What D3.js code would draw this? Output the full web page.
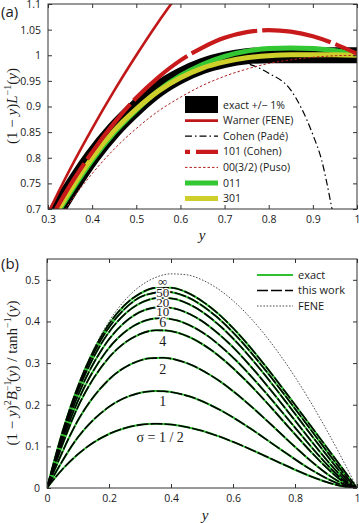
<!DOCTYPE html>
<html>
<head>
<meta charset="utf-8">
<script src="https://cdn.jsdelivr.net/npm/d3@7"></script>
<style>
body { margin: 0; background: #fff; }
text { font-family: "Open Sans", sans-serif; fill: #1a1a1a; }
.math { font-family: "Liberation Serif", serif; }
</style>
</head>
<body>
<div id="chart"></div>
<script>
// ---------- panel (a) data ----------
var yGridA = [0.30, 0.35, 0.40, 0.45, 0.50, 0.55, 0.60, 0.65, 0.70, 0.75, 0.80, 0.85, 0.90, 0.95, 1.00];
var exactA = [0.667, 0.738, 0.802, 0.855, 0.898, 0.934, 0.960, 0.979, 0.991, 0.998, 1.000, 1.000, 1.000, 1.000, 1.000];
var cohen101 = [0.672, 0.746, 0.811, 0.868, 0.917, 0.957, 0.990, 1.015, 1.034, 1.045, 1.049, 1.046, 1.037, 1.022, 1.003];
var puso = [0.647, 0.713, 0.769, 0.817, 0.857, 0.891, 0.918, 0.941, 0.959, 0.973, 0.984, 0.991, 0.996, 0.999, 1.000];
var approx011 = [0.662, 0.731, 0.795, 0.849, 0.893, 0.931, 0.960, 0.982, 0.998, 1.008, 1.013, 1.014, 1.013, 1.009, 1.003];
var approx301 = [0.665, 0.736, 0.800, 0.853, 0.895, 0.930, 0.956, 0.975, 0.987, 0.995, 0.999, 1.001, 1.001, 1.001, 1.000];
var warnerY = [0.30, 0.35, 0.40, 0.45, 0.50, 0.55, 0.60];
var warner = [0.692, 0.778, 0.857, 0.931, 1.000, 1.065, 1.125];
var padeY = [0.30, 0.35, 0.40, 0.45, 0.50, 0.55, 0.60, 0.65, 0.70, 0.75, 0.80, 0.85, 0.875, 0.90, 0.92, 0.94, 0.96];
var pade = [0.667, 0.738, 0.802, 0.855, 0.898, 0.934, 0.960, 0.979, 0.990, 0.984, 0.965, 0.932, 0.895, 0.845, 0.795, 0.715, 0.620];

var xTicksA = [0.3, 0.4, 0.5, 0.6, 0.7, 0.8, 0.9, 1.0];
var xTickLabelsA = ["0.3", "0.4", "0.5", "0.6", "0.7", "0.8", "0.9", "1"];
var yTicksA = [0.7, 0.75, 0.8, 0.85, 0.9, 0.95, 1.0, 1.05, 1.1];
var yTickLabelsA = ["0.7", "0.75", "0.8", "0.85", "0.9", "0.95", "1", "1.05", "1.1"];
var legendA = ["exact +/\u2212 1%", "Warner (FENE)", "Cohen (Pad\u00e9)", "101 (Cohen)", "00(3/2) (Puso)", "011", "301"];

// ---------- panel (b) data ----------
var yGridB = [0, 0.05, 0.10, 0.15, 0.20, 0.25, 0.30, 0.35, 0.40, 0.45, 0.50, 0.55, 0.60, 0.65, 0.70, 0.75, 0.80, 0.85, 0.90, 0.95, 1.00];
var sigHalf = [0, 0.0452, 0.0813, 0.1092, 0.1297, 0.1437, 0.1517, 0.1544, 0.1525, 0.1466, 0.1373, 0.1252, 0.1109, 0.0950, 0.0781, 0.0608, 0.0439, 0.0283, 0.0147, 0.0046, 0];
var sigInf = [0, 0.1356, 0.2445, 0.3296, 0.3936, 0.4388, 0.4670, 0.4806, 0.4810, 0.4701, 0.4490, 0.4202, 0.3842, 0.3428, 0.2974, 0.2494, 0.1999, 0.1500, 0.1000, 0.0500, 0];
var fene = [0, 0.1357, 0.2455, 0.3326, 0.4000, 0.4500, 0.4846, 0.5056, 0.5143, 0.5121, 0.5000, 0.4790, 0.4500, 0.4136, 0.3706, 0.3214, 0.2667, 0.2068, 0.1421, 0.0731, 0];
var sig1 = [[0,0],[0.0996,0.1216],[0.1971,0.1934],[0.2903,0.2267],[0.3202,0.2311],[0.3491,0.2330],[0.3777,0.2323],[0.4582,0.2202],[0.5536,0.1893],[0.6533,0.1443],[0.7465,0.0964],[0.8510,0.0444],[0.9122,0.0193],[0.9480,0.0081],[0.9813,0.0014],[1,0]];
var sig2 = [[0,0],[0.0996,0.1622],[0.1966,0.2582],[0.2889,0.3034],[0.3327,0.3117],[0.3747,0.3128],[0.4148,0.3083],[0.4528,0.2994],[0.5547,0.2578],[0.6387,0.2089],[0.7260,0.1502],[0.8041,0.0960],[0.8578,0.0607],[0.9219,0.0244],[0.9553,0.0100],[0.9738,0.0041],[1,0]];
var sig4 = [[0,0],[0.1036,0.2009],[0.2040,0.3168],[0.2984,0.3691],[0.3513,0.3787],[0.3849,0.3784],[0.4170,0.3739],[0.4623,0.3615],[0.5303,0.3310],[0.6399,0.2593],[0.7202,0.1958],[0.7788,0.1467],[0.8548,0.0843],[0.8996,0.0504],[0.9282,0.0309],[0.9609,0.0122],[0.9776,0.0050],[1,0]];
var sig6 = [[0,0],[0.0967,0.2040],[0.1907,0.3275],[0.2795,0.3893],[0.3295,0.4046],[0.3614,0.4079],[0.3919,0.4068],[0.4211,0.4022],[0.5006,0.3741],[0.6075,0.3081],[0.6872,0.2446],[0.7464,0.1930],[0.8245,0.1232],[0.8719,0.0820],[0.9030,0.0564],[0.9403,0.0285],[0.9612,0.0151],[0.9821,0.0045],[1,0]];
var sig10 = [[0,0],[0.0912,0.2065],[0.1800,0.3362],[0.2642,0.4060],[0.3422,0.4327],[0.3714,0.4346],[0.4130,0.4308],[0.4761,0.4117],[0.5803,0.3523],[0.6590,0.2907],[0.7180,0.2385],[0.7972,0.1646],[0.8459,0.1187],[0.8784,0.0888],[0.9184,0.0533],[0.9418,0.0339],[0.9673,0.0150],[0.9844,0.0049],[1,0]];
var sig20 = [[0,0],[0.0871,0.2083],[0.1720,0.3428],[0.2527,0.4188],[0.3277,0.4520],[0.3559,0.4564],[0.3961,0.4559],[0.4573,0.4418],[0.5591,0.3887],[0.6367,0.3299],[0.6954,0.2783],[0.7747,0.2030],[0.8240,0.1548],[0.8571,0.1225],[0.8983,0.0827],[0.9229,0.0594],[0.9507,0.0341],[0.9709,0.0169],[0.9856,0.0062],[1,0]];
var sig50 = [[0,0],[0.0846,0.2095],[0.1672,0.3468],[0.2457,0.4267],[0.3189,0.4639],[0.3858,0.4716],[0.4106,0.4690],[0.4458,0.4606],[0.5461,0.4120],[0.6229,0.3554],[0.6813,0.3047],[0.7605,0.2295],[0.8099,0.1807],[0.8669,0.1240],[0.9097,0.0816],[0.9428,0.0490],[0.9692,0.0238],[0.9837,0.0107],[0.9935,0.0030],[1,0]];

var sigmaLabels = ["\u221e", "50", "20", "10", "6", "4", "2", "1", "\u03c3 = 1 / 2"];
var sigmaLabelX = [0.373, 0.373, 0.373, 0.373, 0.373, 0.373, 0.373, 0.373, 0.365];
var sigmaLabelV = [0.497, 0.469, 0.446, 0.424, 0.398, 0.354, 0.286, 0.209, 0.123];

var xTicksB = [0, 0.2, 0.4, 0.6, 0.8, 1];
var xTickLabelsB = ["0", "0.2", "0.4", "0.6", "0.8", "1"];
var yTicksB = [0, 0.1, 0.2, 0.3, 0.4, 0.5];
var yTickLabelsB = ["0", "0.1", "0.2", "0.3", "0.4", "0.5"];
var legendB = ["exact", "this work", "FENE"];

// ---------- svg ----------
var W = 359, H = 523;
var svg = d3.select("#chart").append("svg")
    .attr("width", W)
    .attr("height", H);

var red = "#c81a1a";
var green = "#33c833";
var yellow = "#cfcf2c";

function zip(xs, vs) {
  return xs.map(function(x, i) { return [x, vs[i]]; });
}

// box with inward ticks on all four sides, labels bottom and left
function frame(g, x, y, xt, xl, yt, yl) {
  var x0 = x.range()[0], x1 = x.range()[1], y0 = y.range()[0], y1 = y.range()[1];
  g.append("g").attr("class", "ax")
    .attr("transform", "translate(0," + y0 + ")")
    .call(d3.axisBottom(x).tickValues(xt).tickSize(-4).tickPadding(7)
      .tickFormat(function(d, i) { return xl[i]; }));
  g.append("g").attr("class", "ax")
    .attr("transform", "translate(0," + y1 + ")")
    .call(d3.axisTop(x).tickValues(xt).tickSize(-4).tickFormat(""));
  g.append("g").attr("class", "ax")
    .attr("transform", "translate(" + x0 + ",0)")
    .call(d3.axisLeft(y).tickValues(yt).tickSize(-4).tickPadding(7)
      .tickFormat(function(d, i) { return yl[i]; }));
  g.append("g").attr("class", "ax")
    .attr("transform", "translate(" + x1 + ",0)")
    .call(d3.axisRight(y).tickValues(yt).tickSize(-4).tickFormat(""));
  g.selectAll(".ax .domain").remove();
  g.selectAll(".ax line").attr("stroke", "#333");
  g.selectAll(".ax text").attr("font-size", "10.5px").attr("font-family", "Open Sans, sans-serif").attr("fill", "#1a1a1a");
  g.append("rect")
    .attr("x", x0).attr("y", y1)
    .attr("width", x1 - x0).attr("height", y0 - y1)
    .attr("fill", "none").attr("stroke", "#333").attr("stroke-width", 1);
}

// ================= panel (a) =================
var xA = d3.scaleLinear().domain([0.3, 1.0]).range([48, 357]);
var yA = d3.scaleLinear().domain([0.7, 1.1]).range([209, 4]);

var gA = svg.append("g");
svg.append("clipPath").attr("id", "clipA").append("rect")
  .attr("x", 48).attr("y", 4).attr("width", 309).attr("height", 205);

var lineA = d3.line()
  .x(function(d) { return xA(d[0]); })
  .y(function(d) { return yA(d[1]); })
  .curve(d3.curveMonotoneX);

var curvesA = gA.append("g").attr("clip-path", "url(#clipA)");

// exact, drawn as a wide band
curvesA.append("path").datum(zip(yGridA, exactA))
  .attr("d", lineA).attr("fill", "none").attr("stroke", "#000").attr("stroke-width", 16);
curvesA.append("path").datum(zip(warnerY, warner))
  .attr("d", lineA).attr("fill", "none").attr("stroke", "#c01818").attr("stroke-width", 2.6);
curvesA.append("path").datum(zip(padeY, pade))
  .attr("d", lineA).attr("fill", "none").attr("stroke", "#000").attr("stroke-width", 1.2)
  .attr("stroke-dasharray", "7,3,1.5,3");
curvesA.append("path").datum(zip(yGridA, approx011))
  .attr("d", lineA).attr("fill", "none").attr("stroke", green).attr("stroke-width", 5);
curvesA.append("path").datum(zip(yGridA, approx301))
  .attr("d", lineA).attr("fill", "none").attr("stroke", yellow).attr("stroke-width", 5);
curvesA.append("path").datum(zip(yGridA, cohen101))
  .attr("d", lineA).attr("fill", "none").attr("stroke", red).attr("stroke-width", 4.2)
  .attr("stroke-dasharray", "70,5");
curvesA.append("path").datum(zip(yGridA, puso))
  .attr("d", lineA).attr("fill", "none").attr("stroke", "#b02020").attr("stroke-width", 1)
  .attr("stroke-dasharray", "2.5,2");

frame(gA, xA, yA, xTicksA, xTickLabelsA, yTicksA, yTickLabelsA);

// legend (a)
var legA = gA.append("g");
var rowY = function(i) { return 105 + i * 15.6; };
legA.append("rect").attr("x", 185).attr("y", 96).attr("width", 33).attr("height", 17).attr("fill", "#000");
var legStyles = [
  null,
  {c: "#c01818", w: 2.6, d: null},
  {c: "#000", w: 1.2, d: "7,3,1.5,3"},
  {c: red, w: 4.2, d: "5,6,22,4"},
  {c: "#b02020", w: 1, d: "2.5,2"},
  {c: green, w: 5, d: null},
  {c: yellow, w: 5, d: null}
];
legStyles.forEach(function(s, i) {
  if (!s) return;
  legA.append("line")
    .attr("x1", 185).attr("x2", 218).attr("y1", rowY(i)).attr("y2", rowY(i))
    .attr("stroke", s.c).attr("stroke-width", s.w)
    .attr("stroke-dasharray", s.d);
});
legA.selectAll("text.leg").data(legendA).enter().append("text")
  .attr("class", "leg")
  .attr("x", 223).attr("y", function(d, i) { return rowY(i); })
  .attr("dy", "0.35em").attr("font-size", "10.5px")
  .text(function(d) { return d; });

// axis titles (a)
gA.append("text").attr("class", "math")
  .attr("x", 202).attr("y", 240).attr("text-anchor", "middle")
  .attr("font-size", "15px").attr("font-style", "italic").text("y");

var tA = gA.append("text").attr("class", "math")
  .attr("transform", "translate(17,106) rotate(-90)")
  .attr("text-anchor", "middle").attr("font-size", "15px");
tA.append("tspan").text("(1 \u2212 ");
tA.append("tspan").attr("font-style", "italic").text("y");
tA.append("tspan").text(")");
tA.append("tspan").attr("font-style", "italic").text("L");
tA.append("tspan").attr("font-size", "10px").attr("dy", "-6").text("\u22121");
tA.append("tspan").attr("dy", "6").text("(");
tA.append("tspan").attr("font-style", "italic").text("y");
tA.append("tspan").text(")");

svg.append("text").attr("x", 1).attr("y", 17).attr("font-size", "15px").text("(a)");

// ================= panel (b) =================
var xB = d3.scaleLinear().domain([0, 1]).range([47, 357]);
var yB = d3.scaleLinear().domain([0, 0.55]).range([488, 259]);

var gB = svg.append("g");
svg.append("clipPath").attr("id", "clipB").append("rect")
  .attr("x", 47).attr("y", 259).attr("width", 310).attr("height", 229);

var lineB = d3.line()
  .x(function(d) { return xB(d[0]); })
  .y(function(d) { return yB(d[1]); })
  .curve(d3.curveMonotoneX);

var curvesB = gB.append("g").attr("clip-path", "url(#clipB)");
var seriesB = [zip(yGridB, sigHalf), sig1, sig2, sig4, sig6, sig10, sig20, sig50, zip(yGridB, sigInf)];

curvesB.append("path").datum(zip(yGridB, fene))
  .attr("d", lineB).attr("fill", "none").attr("stroke", "#222").attr("stroke-width", 0.8)
  .attr("stroke-dasharray", "1.6,1.6");

curvesB.selectAll("path.exact").data(seriesB).enter().append("path")
  .attr("class", "exact")
  .attr("d", lineB).attr("fill", "none").attr("stroke", "#2fbf2f").attr("stroke-width", 2);
curvesB.selectAll("path.work").data(seriesB).enter().append("path")
  .attr("class", "work")
  .attr("d", lineB).attr("fill", "none").attr("stroke", "#000").attr("stroke-width", 1.6)
  .attr("stroke-dasharray", "12,2");

// sigma labels
gB.selectAll("text.sig").data(sigmaLabels).enter().append("text")
  .attr("class", "sig math")
  .attr("x", function(d, i) { return xB(sigmaLabelX[i]); })
  .attr("y", function(d, i) { return yB(sigmaLabelV[i]); })
  .attr("dy", "0.35em").attr("text-anchor", "middle")
  .attr("font-size", function(d, i) { return i < 4 ? "13px" : "14px"; })
  .attr("stroke", "#fff").attr("stroke-width", 2.5).attr("paint-order", "stroke")
  .text(function(d) { return d; });

frame(gB, xB, yB, xTicksB, xTickLabelsB, yTicksB, yTickLabelsB);

// legend (b)
var legB = gB.append("g");
var legBStyles = [
  {c: "#2fbf2f", w: 1.8, d: null},
  {c: "#000", w: 1.5, d: "11,3"},
  {c: "#222", w: 0.8, d: "1.6,1.6"}
];
legBStyles.forEach(function(s, i) {
  legB.append("line")
    .attr("x1", 257).attr("x2", 293)
    .attr("y1", 275 + i * 15.5).attr("y2", 275 + i * 15.5)
    .attr("stroke", s.c).attr("stroke-width", s.w).attr("stroke-dasharray", s.d);
});
legB.selectAll("text.leg").data(legendB).enter().append("text")
  .attr("class", "leg")
  .attr("x", 298).attr("y", function(d, i) { return 275 + i * 15.5; })
  .attr("dy", "0.35em").attr("font-size", "11px")
  .text(function(d) { return d; });

// axis titles (b)
gB.append("text").attr("class", "math")
  .attr("x", 205).attr("y", 520).attr("text-anchor", "middle")
  .attr("font-size", "15px").attr("font-style", "italic").text("y");

var tB = gB.append("text").attr("class", "math")
  .attr("transform", "translate(17,373) rotate(-90)")
  .attr("text-anchor", "middle").attr("font-size", "15px");
tB.append("tspan").text("(1 \u2212 ");
tB.append("tspan").attr("font-style", "italic").text("y");
tB.append("tspan").text(")");
tB.append("tspan").attr("font-size", "10px").attr("dy", "-6").text("2");
tB.append("tspan").attr("dy", "6").attr("font-style", "italic").text("B");
tB.append("tspan").attr("font-size", "10px").attr("dy", "-6").text("\u22121");
tB.append("tspan").attr("font-size", "10px").attr("dx", "-11").attr("dy", "10").text("\u03c3");
tB.append("tspan").attr("dx", "4").attr("dy", "-4").text("(");
tB.append("tspan").attr("font-style", "italic").text("y");
tB.append("tspan").text(") / tanh");
tB.append("tspan").attr("font-size", "10px").attr("dy", "-6").text("\u22121");
tB.append("tspan").attr("dy", "6").text("(");
tB.append("tspan").attr("font-style", "italic").text("y");
tB.append("tspan").text(")");

svg.append("text").attr("x", 1).attr("y", 269).attr("font-size", "15px").text("(b)");
</script>
</body>
</html>
